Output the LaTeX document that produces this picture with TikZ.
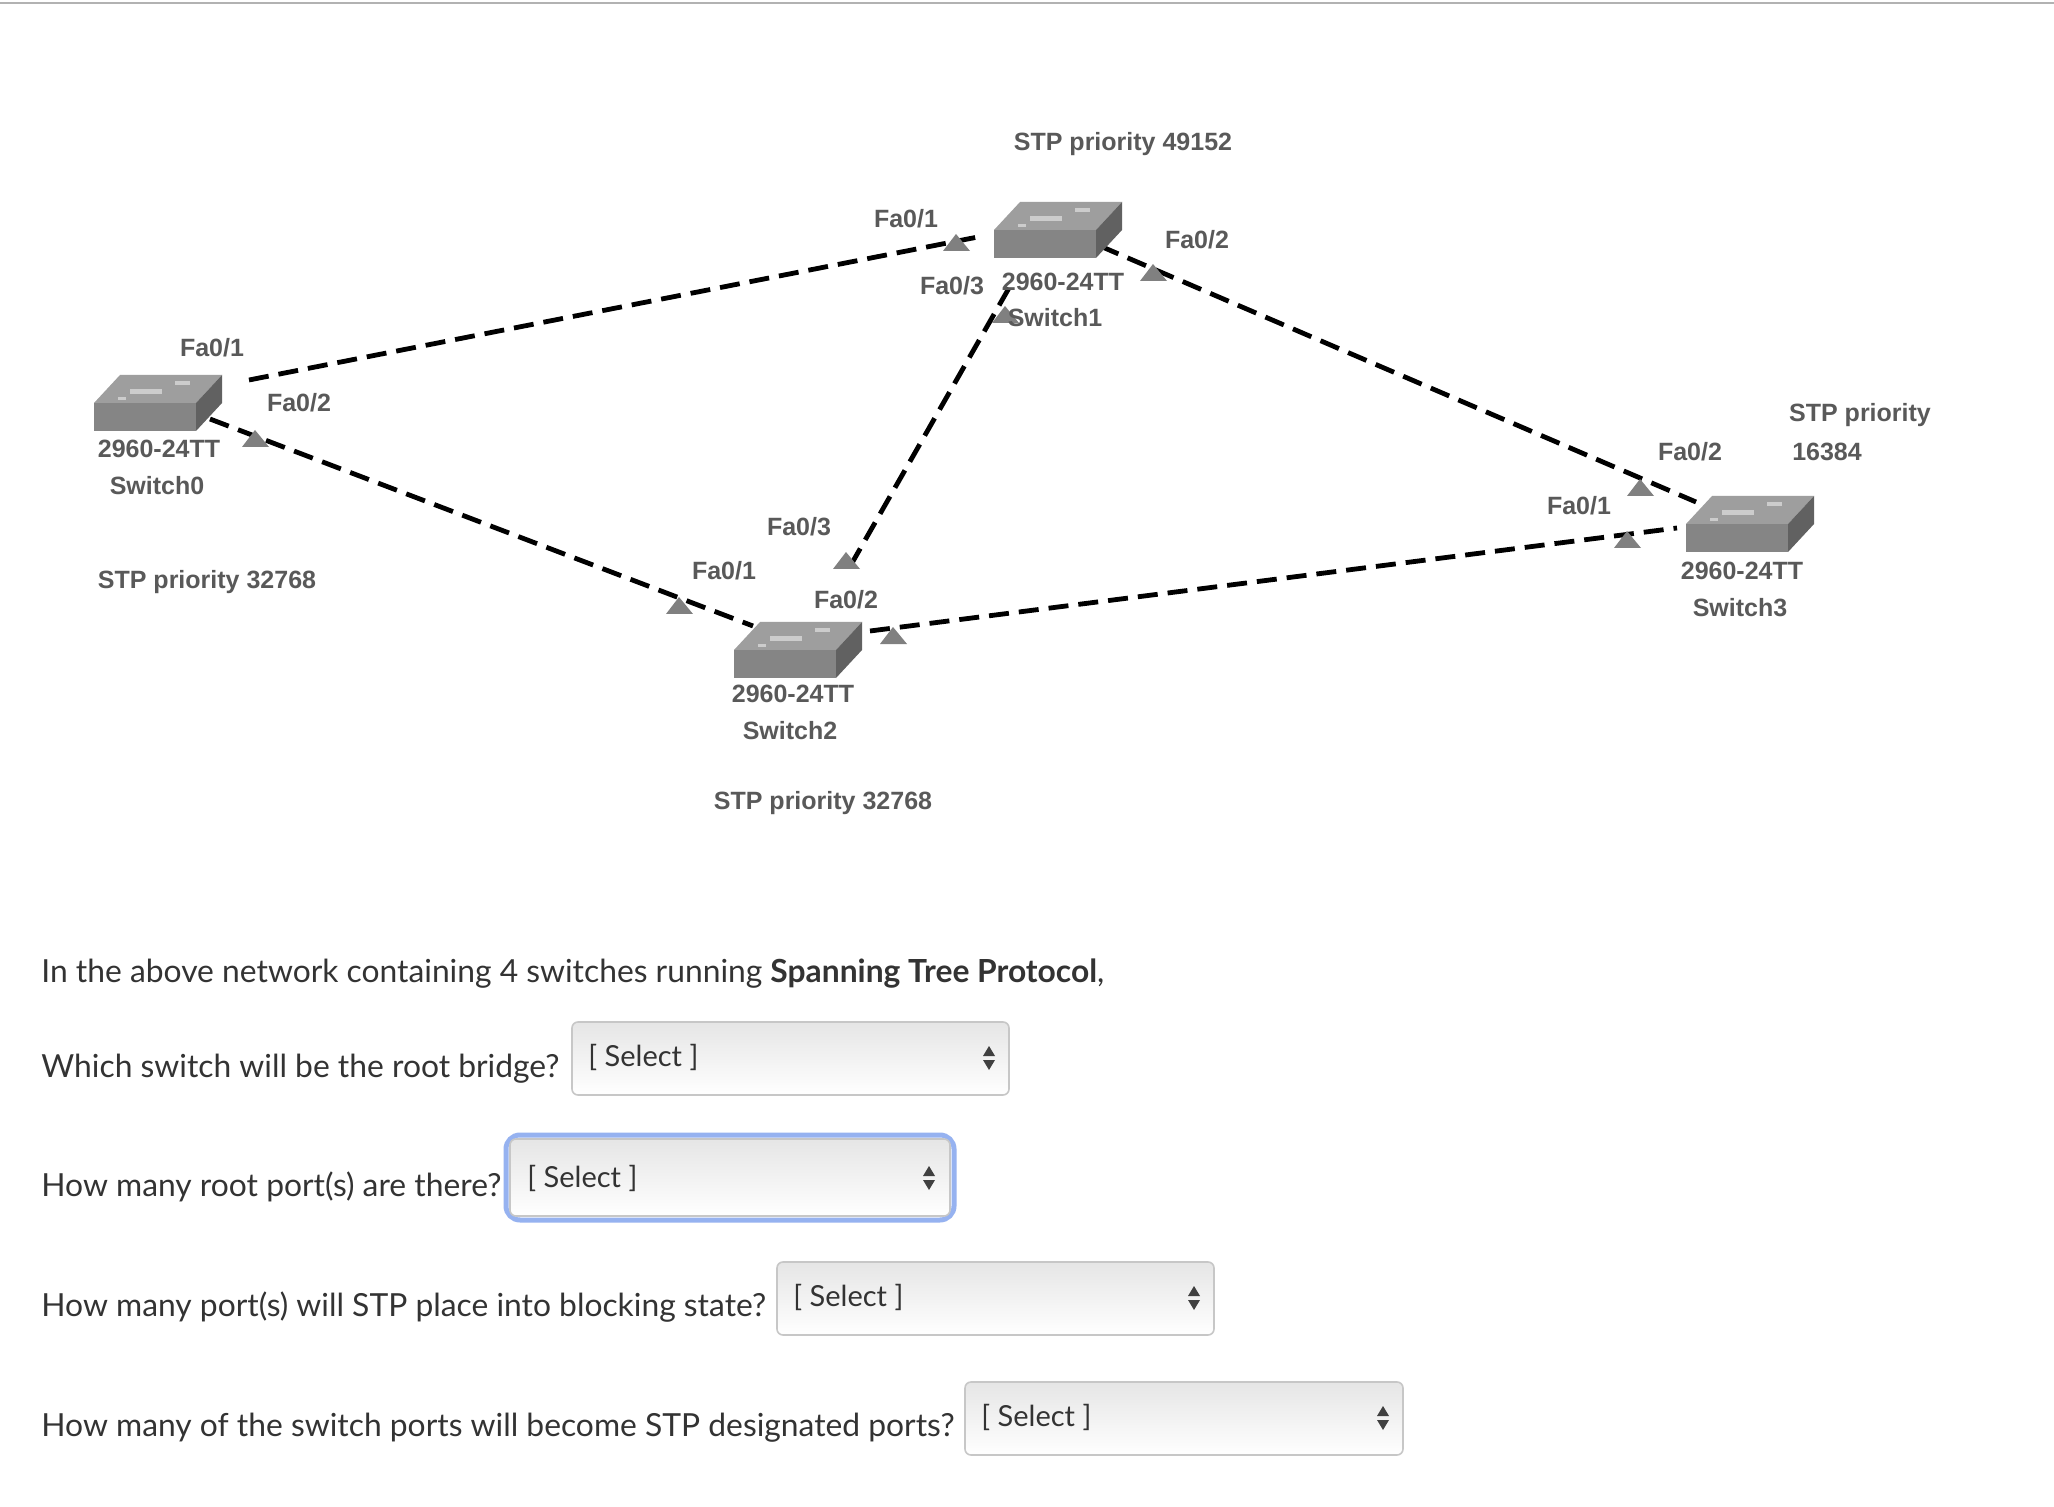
\documentclass[tikz,border=0pt]{standalone}
\usepackage{fontspec}
\setmainfont{Lato}
\newfontfamily\arialf{Liberation Sans}
\begin{document}
\begin{tikzpicture}[x=0.5pt,y=-0.5pt,
  lbl/.style={font=\arialf\bfseries\fontsize{12.5}{14}\selectfont,text=black!65,inner sep=1pt},
  qtxt/.style={font=\fontsize{15.9}{19}\selectfont,text=black!80,anchor=base west,inner sep=0pt},
  link/.style={line width=2.4pt,dash pattern=on 10pt off 5pt},
  selbox/.style={draw=black!22,line width=0.8pt,rounded corners=3pt,top color=black!10,bottom color=white},
  seltxt/.style={font=\fontsize{14.5}{17}\selectfont,text=black!80,anchor=base west,inner sep=0pt},
  switchpic/.pic={
    \fill[black!38] (-56,-2) -- (-30,-30) -- (72,-30) -- (46,-2) -- cycle;
    \fill[black!48] (-56,-2) rectangle (46,26);
    \fill[black!62] (46,-2) -- (72,-30) -- (72,-2) -- (46,26) -- cycle;
    \fill[black!20] (-20,-16) rectangle (12,-11);
    \fill[black!20] (25,-24) rectangle (40,-20);
    \fill[black!20] (-32,-8) rectangle (-24,-5);
  },
  portpic/.pic={\fill[black!50] (-13,7) -- (0,-10) -- (14,7) -- cycle;}
]
\useasboundingbox (0,0) rectangle (2054,1507);
\fill[white] (0,0) rectangle (2054,1507);
\draw[black!30,line width=1pt] (0,3) -- (2054,3);

% links
\coordinate (a1) at (249,380); \coordinate (b1) at (983,236);
\coordinate (a2) at (210,419); \coordinate (b2) at (753,626);
\coordinate (a3) at (1009,288); \coordinate (b3) at (852,563);
\coordinate (a4) at (1100,246); \coordinate (b4) at (1696,502);
\coordinate (a5) at (870,631); \coordinate (b5) at (1677,528);
\draw[link] (a1) -- (b1);
\draw[link] (a2) -- (b2);
\draw[link] (a3) -- (b3);
\draw[link] (a4) -- (b4);
\draw[link] (a5) -- (b5);

% switches
\pic (sw0) at (150,405) {switchpic};
\pic (sw1) at (1050,232) {switchpic};
\pic (sw2) at (790,652) {switchpic};
\pic (sw3) at (1742,526) {switchpic};

% ports
\pic at (956,244) {portpic};
\pic at (1153,274) {portpic};
\pic at (1005,316) {portpic};
\pic at (255,440) {portpic};
\pic at (679,607) {portpic};
\pic at (846,562) {portpic};
\pic at (893,637) {portpic};
\pic at (1640,489) {portpic};
\pic at (1627,541) {portpic};

% labels
\node[lbl] (p1) at (1123,144) {STP priority 49152};
\node[lbl] (l1) at (906,219) {Fa0/1};
\node[lbl] (l2) at (1197,240) {Fa0/2};
\node[lbl] (l3) at (952,286) {Fa0/3};
\node[lbl] (m1) at (1063,282) {2960-24TT};
\node[lbl] (n1) at (1055,318) {Switch1};
\node[lbl] (l4) at (212,348) {Fa0/1};
\node[lbl] (l5) at (299,403) {Fa0/2};
\node[lbl] (m0) at (159,449) {2960-24TT};
\node[lbl] (n0) at (157,486) {Switch0};
\node[lbl] (p0) at (207,582) {STP priority 32768};
\node[lbl] (l6) at (799,527) {Fa0/3};
\node[lbl] (l7) at (724,571) {Fa0/1};
\node[lbl] (l8) at (846,600) {Fa0/2};
\node[lbl] (m2) at (793,694) {2960-24TT};
\node[lbl] (n2) at (790,731) {Switch2};
\node[lbl] (p2) at (823,803) {STP priority 32768};
\node[lbl] (l9) at (1690,452) {Fa0/2};
\node[lbl] (l10) at (1579,506) {Fa0/1};
\node[lbl] (p3) at (1860,415) {STP priority};
\node[lbl] (p3b) at (1827,452) {16384};
\node[lbl] (m3) at (1742,571) {2960-24TT};
\node[lbl] (n3) at (1740,608) {Switch3};

% questions
\node[qtxt] (q0) at (41,982) {In the above network containing 4 switches running \textbf{Spanning Tree Protocol},};
\node[qtxt] (q1) at (41,1077) {Which switch will be the root bridge?};
\node[qtxt] (q2) at (41,1196) {How many root port(s) are there?};
\node[qtxt] (q3) at (41,1316) {How many port(s) will STP place into blocking state?};
\node[qtxt] (q4) at (41,1436) {How many of the switch ports will become STP designated ports?};

\draw[rounded corners=7pt,draw={rgb,255:red,150;green,178;blue,240},line width=2.5pt] (506,1135) rectangle (954,1220);
\path[selbox] (572,1022) rectangle (1009,1095);
\path[selbox] (510,1139) rectangle (950,1216);
\path[selbox] (777,1262) rectangle (1214,1335);
\path[selbox] (965,1382) rectangle (1403,1455);
\node[seltxt] (s1) at (588,1066) {[ Select ]};
\node[seltxt] (s2) at (527,1187) {[ Select ]};
\node[seltxt] (s3) at (793,1306) {[ Select ]};
\node[seltxt] (s4) at (981,1426) {[ Select ]};
\foreach \x/\y in {989/1058, 929/1178, 1194/1298, 1383/1418}{
  \fill[black!75] (\x-6,\y-2) -- (\x,\y-12) -- (\x+6,\y-2) -- cycle;
  \fill[black!75] (\x-6,\y+2) -- (\x,\y+12) -- (\x+6,\y+2) -- cycle;
}
\end{tikzpicture}
\end{document}
